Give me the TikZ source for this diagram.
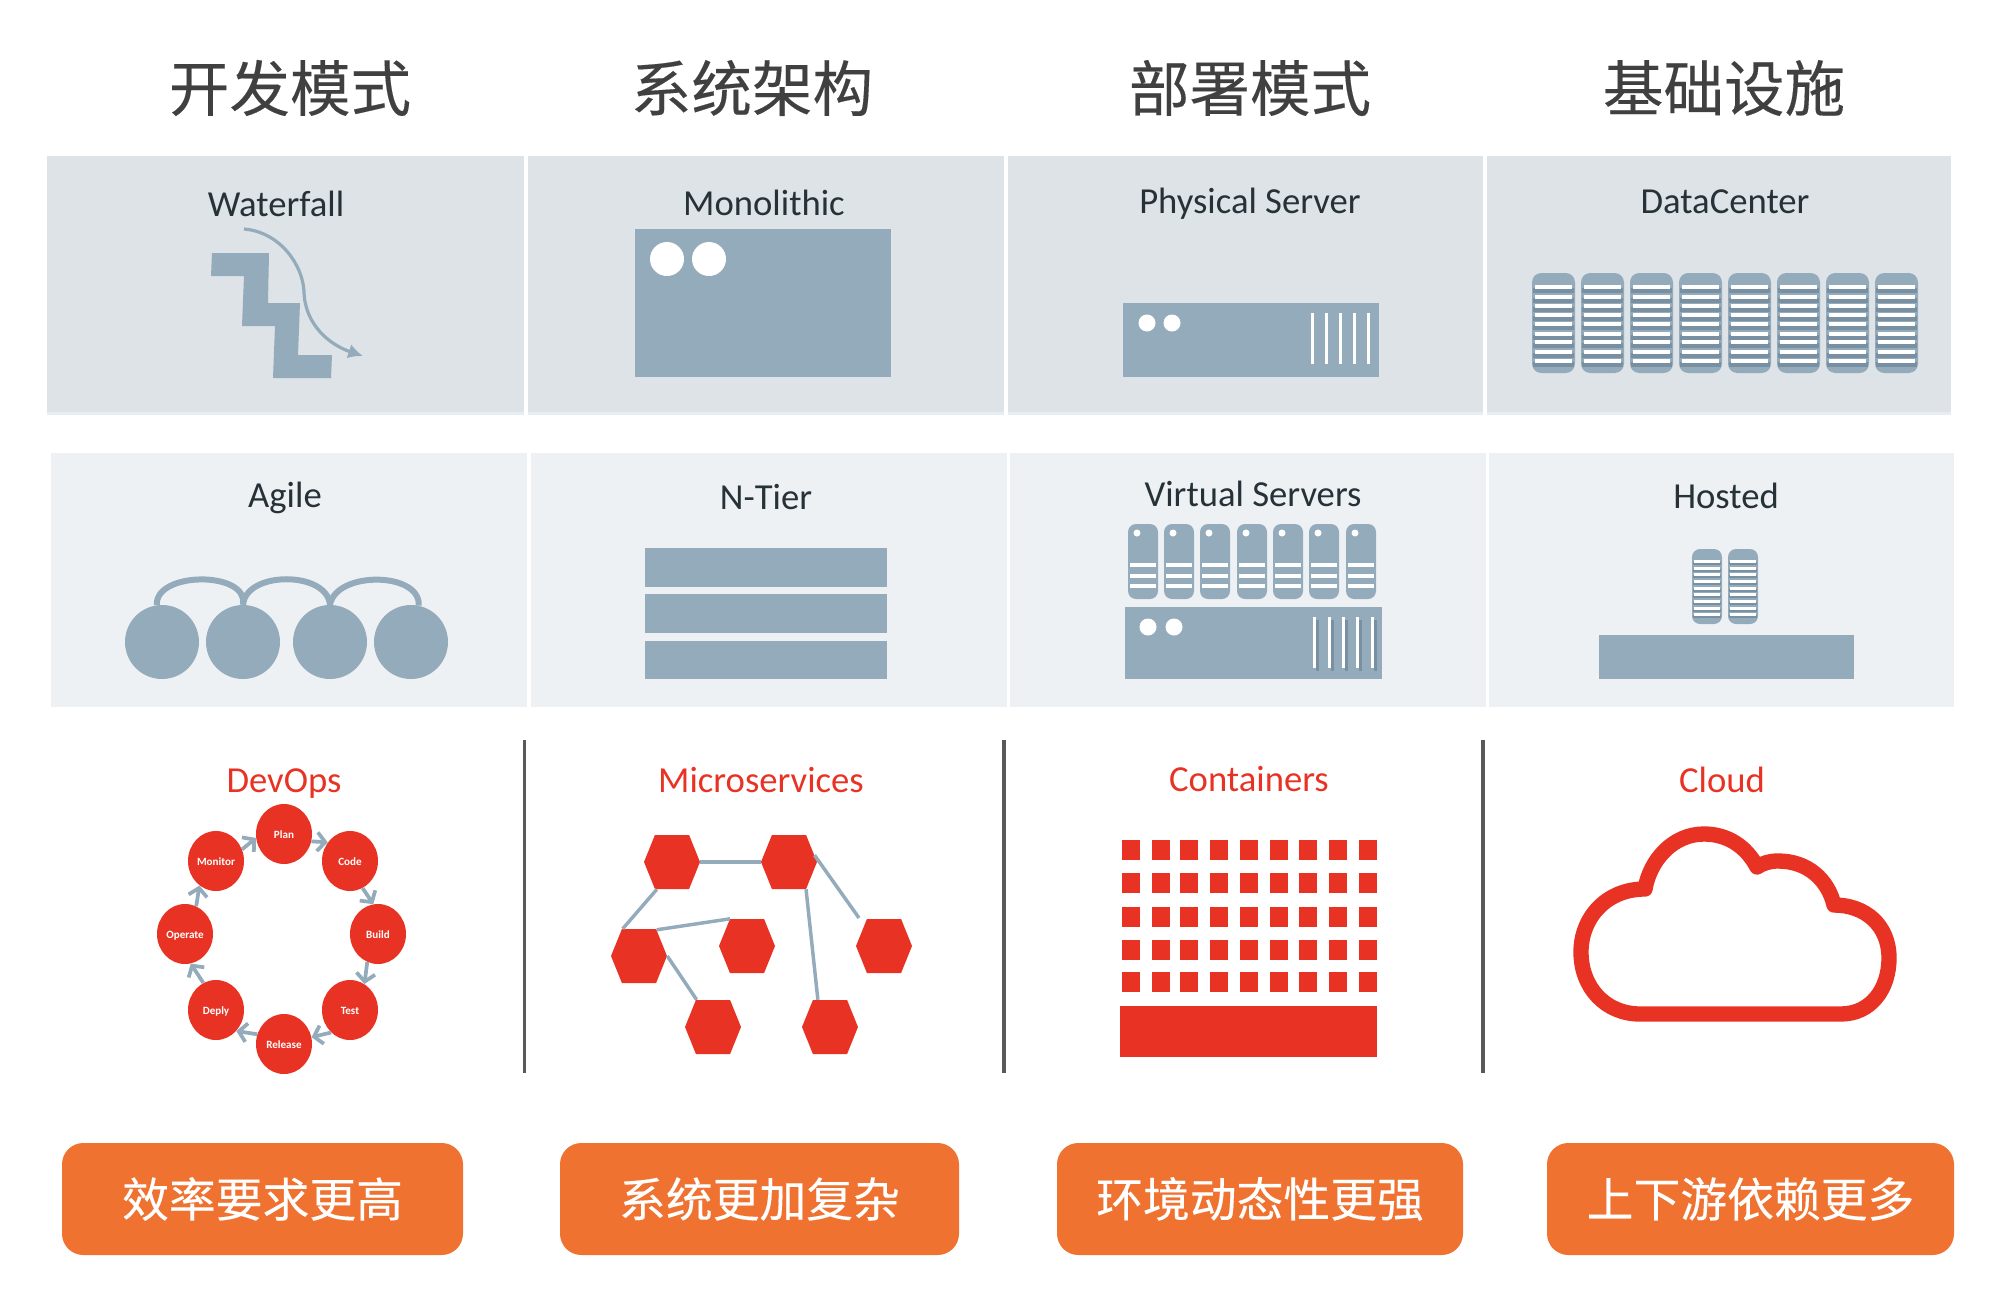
\documentclass[tikz,border=0pt]{standalone}
\usepackage{fontspec}
\setmainfont{Carlito}
\newfontfamily\cjk[FakeBold=0.25]{Noto Sans CJK SC}
\usepackage{tikz}
\usetikzlibrary{arrows.meta,shapes.geometric,shapes.symbols}
\definecolor{iconblue}{RGB}{148,171,188}
\definecolor{iconshade}{RGB}{120,144,161}
\definecolor{panelone}{RGB}{221,227,231}
\definecolor{panelrim}{RGB}{232,237,241}
\definecolor{paneltwo}{RGB}{238,241,244}
\definecolor{inkdark}{RGB}{38,50,56}
\definecolor{redicon}{RGB}{232,51,36}
\definecolor{btnorange}{RGB}{240,114,48}
\tikzset{
  coltitle/.style={inner sep=0pt,text=black!75,font=\cjk\fontsize{45.4}{54}\selectfont},
  rowlabel/.style={inner sep=0pt,text=inkdark,font=\fontsize{27.5}{33}\selectfont},
  redlabel/.style={inner sep=0pt,text=redicon,font=\fontsize{27.5}{33}\selectfont},
  btn/.style={rounded corners=16pt,fill=btnorange,text=white,inner sep=0pt,minimum height=84pt,font=\cjk\fontsize{35.1}{42}\selectfont},
  agilecircle/.style={circle,fill=iconblue,minimum size=55.5pt,inner sep=0pt},
  agilelink/.style={draw=iconblue,line width=4.5pt},
  devstep/.style={ellipse,fill=redicon,text=white,minimum width=42pt,minimum height=45pt,inner sep=0pt,text height=8pt,text depth=1pt,font=\bfseries\fontsize{8.3}{9}\selectfont},
  devlink/.style={draw=iconblue,line width=2.8pt,-{Straight Barb[length=6pt,width=14pt,line width=2.8pt]}},
  hexnode/.style={signal,signal to=west and east,signal pointer angle=136,fill=redicon,minimum width=42pt,minimum height=40.5pt,inner sep=0pt},
  hexlink/.style={draw=iconblue,line width=2.6pt},
}
\begin{document}
\begin{tikzpicture}[x=0.75pt,y=0.75pt,yscale=-1,xscale=1]
    \useasboundingbox (0,0) rectangle (1996,1292);

    %Panels, top row
    \fill [panelrim] (47,411) rectangle (1951,415);
    \fill [panelone] (47,156) rectangle (524,412);
    \fill [panelone] (528,156) rectangle (1004,412);
    \fill [panelone] (1008,156) rectangle (1483,412);
    \fill [panelone] (1487,156) rectangle (1951,412);
    \fill [white] (524,410) rectangle (528,416);
    \fill [white] (1004,410) rectangle (1008,416);
    \fill [white] (1483,410) rectangle (1487,416);
    %Panels, second row
    \fill [paneltwo] (51,453) rectangle (527,707);
    \fill [paneltwo] (531,453) rectangle (1007,707);
    \fill [paneltwo] (1010,453) rectangle (1486,707);
    \fill [paneltwo] (1489,453) rectangle (1954,707);
    %Separators
    \draw [black!65,line width=2.6pt] (524.5,740) -- (524.5,1073);
    \draw [black!65,line width=2.6pt] (1004,740) -- (1004,1073);
    \draw [black!65,line width=2.6pt] (1483,740) -- (1483,1073);

    % Column titles
    \node [coltitle] (devmodel) at (290,88) {开发模式};
    \node [coltitle] (sysarch) at (752,88) {系统架构};
    \node [coltitle] (deploymodel) at (1250,88) {部署模式};
    \node [coltitle] (infra) at (1724,88) {基础设施};

    % Row labels
    \node [rowlabel] (waterfall) at (276,204) {Waterfall};
    \node [rowlabel] (monolithic) at (764,203) {Monolithic};
    \node [rowlabel] (physical) at (1250,204) {Physical Server};
    \node [rowlabel] (datacenter) at (1725,202) {DataCenter};
    \node [rowlabel] (agile) at (285,498) {Agile};
    \node [rowlabel] (ntier) at (766,497) {N-Tier};
    \node [rowlabel] (virtual) at (1253,494) {Virtual Servers};
    \node [rowlabel] (hosted) at (1726,496) {Hosted};
    \node [redlabel] (devops) at (284,784) {DevOps};
    \node [redlabel] (microservices) at (761,780) {Microservices};
    \node [redlabel] (containers) at (1249,779) {Containers};
    \node [redlabel] (cloud) at (1722,780) {Cloud};

    %Shape: Waterfall stairs
    \fill [iconblue] (212,253) -- (269,253) -- (268,303) -- (300,303) -- (298,355) -- (332,355) -- (331,378) -- (273,378) -- (275,326) -- (242,326) -- (244,276) -- (211,276) -- cycle;
    %Curve Lines: Waterfall arrow
    \draw [iconblue,line width=2.4pt,-{Latex[length=11pt,width=11pt]}] (244,229) .. controls (280,232) and (303,265) .. (304,292) .. controls (305,325) and (330,345) .. (363,356);

    %Shape: Monolithic box
    \fill [iconblue] (635,229) rectangle (891,377);
    \fill [white] (667,259) circle (17);
    \fill [white] (709,259) circle (17);

    %Shape: Physical server
    \fill [iconblue] (1123,303) rectangle (1379,377);
    \fill [white] (1147,323) circle (8.5);
    \fill [white] (1172,323) circle (8.5);
    \foreach \lx in {1312,1326,1340,1354,1368}
      \fill [white] (\lx-1.5,313) rectangle (\lx+1.5,364);

    %Shape: DataCenter racks
    \foreach \rx in {1532,1581,1630,1679,1728,1777,1826,1875}{
      \fill [iconblue,rounded corners=7pt] (\rx,273) rectangle (\rx+43,373);
      \foreach \ry in {287,297,306,315,324,334,342,352,361}{
        \fill [iconshade] (\rx+1,\ry+1) rectangle (\rx+42,\ry+5.5);
        \fill [white] (\rx+3,\ry-2) rectangle (\rx+40,\ry+2);
      }
    }

    %Shape: Agile circles
    \node [agilecircle] (agone) at (162,642) {};
    \node [agilecircle] (agtwo) at (243,642) {};
    \node [agilecircle] (agthree) at (330,642) {};
    \node [agilecircle] (agfour) at (411,642) {};
    \draw [agilelink] (agone.98) .. controls +(-2,-34) and +(6,-34) .. (agtwo.90);
    \draw [agilelink] (agtwo.90) .. controls +(3,-34) and +(-3,-34) .. (agthree.90);
    \draw [agilelink] (agthree.90) .. controls +(6,-34) and +(2,-34) .. (agfour.78);

    %Shape: N-Tier layers
    \fill [iconblue] (645,548) rectangle (887,587);
    \fill [iconblue] (645,594) rectangle (887,633);
    \fill [iconblue] (645,641) rectangle (887,679);

    %Shape: Virtual server racks
    \foreach \rx in {1128,1164,1200,1237,1273,1309,1346}{
      \fill [iconblue,rounded corners=6pt] (\rx,524) rectangle (\rx+30,599);
      \fill [white] (\rx+9,533) circle (3.5);
      \foreach \ry in {565,576,586}
        \fill [white] (\rx+2,\ry-1.7) rectangle (\rx+28,\ry+1.7);
    }
    %Shape: Virtual server base
    \fill [iconblue] (1125,607) rectangle (1382,679);
    \fill [white] (1148,627) circle (8.5);
    \fill [white] (1174,627) circle (8.5);
    \foreach \lx in {1314,1329,1343,1357,1372}{
      \fill [iconshade] (\lx+1.5,620) rectangle (\lx+5,671);
      \fill [white] (\lx-1.5,617) rectangle (\lx+1.5,668);
    }

    %Shape: Hosted racks
    \foreach \rx in {1692,1728}{
      \fill [iconblue,rounded corners=6pt] (\rx,549) rectangle (\rx+30,624);
      \foreach \ry in {561,568,574,581,588,594,601,608,614}{
        \fill [iconshade] (\rx+1,\ry+1) rectangle (\rx+29,\ry+3.5);
        \fill [white] (\rx+2,\ry-1.5) rectangle (\rx+28,\ry+1.5);
      }
    }
    \fill [iconblue] (1599,635) rectangle (1854,679);

    % DevOps cycle
    \node [devstep] (plan) at (284,834) {Plan};
    \node [devstep] (code) at (350,861) {Code};
    \node [devstep] (build) at (378,934) {Build};
    \node [devstep] (test) at (350,1010) {Test};
    \node [devstep] (release) at (284,1044) {Release};
    \node [devstep] (deply) at (216,1010) {Deply};
    \node [devstep] (operate) at (185,934) {Operate};
    \node [devstep] (monitor) at (216,861) {Monitor};
    \draw [devlink] (plan.-15) -- (code.140);
    \draw [devlink] (code.-65) -- (build.99);
    \draw [devlink] (build.-111) -- (test.61);
    \draw [devlink] (test.-130) -- (release.14);
    \draw [devlink] (release.160) -- (deply.-46);
    \draw [devlink] (deply.115) -- (operate.-79);
    \draw [devlink] (operate.68) -- (monitor.-124);
    \draw [devlink] (monitor.24) -- (plan.-172);

    % Microservices
    \node [hexnode] (hexa) at (672,862) {};
    \node [hexnode] (hexb) at (789,862) {};
    \node [hexnode] (hexc) at (884,946) {};
    \node [hexnode] (hexd) at (747,946) {};
    \node [hexnode] (hexe) at (639,956) {};
    \node [hexnode] (hexf) at (713,1027) {};
    \node [hexnode] (hexg) at (830,1027) {};
    \coordinate (hexcgap) at (859,918);
    \draw [hexlink] (hexa.east) -- (hexb.west);
    \draw [hexlink] (hexa.-119) -- (hexe.121);
    \draw [hexlink] (hexe.56) -- (hexd.122);
    \draw [hexlink] (hexe.east) -- (hexf.121);
    \draw [hexlink] (hexb.-58) -- (hexg.114);
    \draw [hexlink] (hexb.15) -- (hexcgap);

    %Shape: Containers grid
    \foreach \gy in {840,873,907,940,972}
      \foreach \gx in {1122,1152,1180,1210,1240,1270,1299,1329,1359}
        \fill [redicon] (\gx,\gy) rectangle (\gx+18,\gy+20);
    \fill [redicon] (1120,1006) rectangle (1377,1057);

    %Curve Lines: Cloud
    \draw [redicon,line width=11.5pt,line join=round] (1640,1014) -- (1841,1014) .. controls (1870,1014) and (1889,990) .. (1889,958) .. controls (1889,925) and (1865,905) .. (1834,905) .. controls (1828,880) and (1808,861) .. (1778,861) .. controls (1770,861) and (1763,863) .. (1757,867) .. controls (1746,846) and (1727,834) .. (1704,834) .. controls (1673,834) and (1650,860) .. (1645,889) .. controls (1606,889) and (1581,918) .. (1581,952) .. controls (1581,988) and (1606,1014) .. (1640,1014) -- cycle;

    % Orange buttons
    \node [btn,minimum width=300.75pt] (btnone) at (262.5,1199) {效率要求更高};
    \node [btn,minimum width=299.25pt] (btntwo) at (759.5,1199) {系统更加复杂};
    \node [btn,minimum width=304.5pt] (btnthree) at (1260,1199) {环境动态性更强};
    \node [btn,minimum width=305.25pt] (btnfour) at (1750.5,1199) {上下游依赖更多};

\end{tikzpicture}
\end{document}
